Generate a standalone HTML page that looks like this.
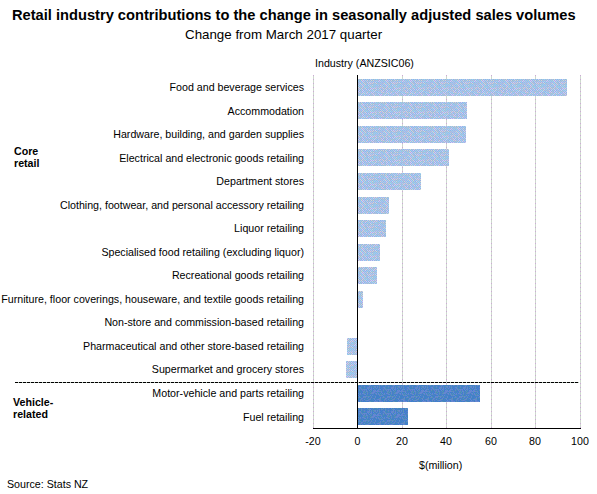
<!DOCTYPE html>
<html><head><meta charset="utf-8"><style>
html,body{margin:0;padding:0;background:#fff;}
body{width:597px;height:494px;position:relative;overflow:hidden;font-family:"Liberation Sans",sans-serif;color:#000;}
.t{position:absolute;white-space:nowrap;line-height:1;}
.lab{position:absolute;white-space:nowrap;right:293px;font-size:10.67px;line-height:12px;}
.r{position:absolute;}
</style></head><body>
<div class="t" style="left:12px;top:8px;font-size:14.67px;font-weight:bold;">Retail industry contributions to the change in seasonally adjusted sales volumes</div>
<div class="t" style="left:185px;top:28px;font-size:13.33px;">Change from March 2017 quarter</div>
<div class="t" style="left:315px;top:58px;font-size:10.67px;">Industry (ANZSIC06)</div>
<div class="r" style="left:313px;top:75px;width:1px;height:353px;background:repeating-linear-gradient(180deg,#cda8d6 0,#cda8d6 1px,#cdd8cd 1px,#cdd8cd 4px);"></div>
<div class="r" style="left:402px;top:75px;width:1px;height:353px;background:repeating-linear-gradient(180deg,#cda8d6 0,#cda8d6 1px,#cdd8cd 1px,#cdd8cd 4px);"></div>
<div class="r" style="left:446px;top:75px;width:1px;height:353px;background:repeating-linear-gradient(180deg,#cda8d6 0,#cda8d6 1px,#cdd8cd 1px,#cdd8cd 4px);"></div>
<div class="r" style="left:491px;top:75px;width:1px;height:353px;background:repeating-linear-gradient(180deg,#cda8d6 0,#cda8d6 1px,#cdd8cd 1px,#cdd8cd 4px);"></div>
<div class="r" style="left:535px;top:75px;width:1px;height:353px;background:repeating-linear-gradient(180deg,#cda8d6 0,#cda8d6 1px,#cdd8cd 1px,#cdd8cd 4px);"></div>
<div class="r" style="left:580px;top:75px;width:1px;height:353px;background:repeating-linear-gradient(180deg,#cda8d6 0,#cda8d6 1px,#cdd8cd 1px,#cdd8cd 4px);"></div>
<svg class="r" style="left:0;top:0" width="597" height="494" shape-rendering="crispEdges"><defs><pattern id="pl" patternUnits="userSpaceOnUse" width="24" height="24"><path fill="#aaabe5" d="M0 0h1v1h-1zM11 1h1v1h-1zM17 1h1v1h-1zM0 2h1v1h-1zM16 2h1v1h-1zM22 2h1v1h-1zM1 3h1v1h-1zM3 3h1v1h-1zM19 3h1v1h-1zM10 4h1v1h-1zM12 4h1v1h-1zM22 4h1v1h-1zM9 5h1v1h-1zM13 5h1v1h-1zM15 5h1v1h-1zM4 6h1v1h-1zM10 6h1v1h-1zM19 7h1v1h-1zM4 8h1v1h-1zM6 8h1v1h-1zM14 8h1v1h-1zM18 8h1v1h-1zM7 9h1v1h-1zM9 9h1v1h-1zM11 9h1v1h-1zM13 9h1v1h-1zM4 10h1v1h-1zM12 10h1v1h-1zM14 10h1v1h-1zM22 10h1v1h-1zM5 11h1v1h-1zM13 11h1v1h-1zM6 12h1v1h-1zM20 12h1v1h-1zM22 12h1v1h-1zM3 13h1v1h-1zM8 14h1v1h-1zM18 14h1v1h-1zM3 15h1v1h-1zM9 15h1v1h-1zM17 15h1v1h-1zM2 16h1v1h-1zM8 16h1v1h-1zM5 17h1v1h-1zM19 17h1v1h-1zM2 18h1v1h-1zM6 18h1v1h-1zM16 18h1v1h-1zM18 18h1v1h-1zM7 19h1v1h-1zM11 19h1v1h-1zM2 20h1v1h-1zM6 20h1v1h-1zM10 20h1v1h-1zM9 21h1v1h-1zM13 21h1v1h-1zM4 22h1v1h-1zM12 22h1v1h-1zM14 22h1v1h-1zM16 22h1v1h-1zM11 23h1v1h-1zM19 23h1v1h-1z"/><path fill="#9bd3f0" d="M1 0h1v1h-1zM11 0h1v1h-1zM17 0h1v1h-1zM0 1h1v1h-1zM10 1h1v1h-1zM7 2h1v1h-1zM17 2h1v1h-1zM19 2h1v1h-1zM21 4h1v1h-1zM23 4h1v1h-1zM0 5h1v1h-1zM10 5h1v1h-1zM18 5h1v1h-1zM20 5h1v1h-1zM22 5h1v1h-1zM3 6h1v1h-1zM7 6h1v1h-1zM4 7h1v1h-1zM6 7h1v1h-1zM8 7h1v1h-1zM16 7h1v1h-1zM21 8h1v1h-1zM0 9h1v1h-1zM12 9h1v1h-1zM14 9h1v1h-1zM22 9h1v1h-1zM1 10h1v1h-1zM17 10h1v1h-1zM19 10h1v1h-1zM21 10h1v1h-1zM23 10h1v1h-1zM20 11h1v1h-1zM7 12h1v1h-1zM15 12h1v1h-1zM17 12h1v1h-1zM21 12h1v1h-1zM0 13h1v1h-1zM6 13h1v1h-1zM14 13h1v1h-1zM16 13h1v1h-1zM1 14h1v1h-1zM17 14h1v1h-1zM8 15h1v1h-1zM7 16h1v1h-1zM21 16h1v1h-1zM4 17h1v1h-1zM5 18h1v1h-1zM7 18h1v1h-1zM11 18h1v1h-1zM16 19h1v1h-1zM1 20h1v1h-1zM5 20h1v1h-1zM9 20h1v1h-1zM19 20h1v1h-1zM8 21h1v1h-1zM10 21h1v1h-1zM20 21h1v1h-1zM3 22h1v1h-1zM7 22h1v1h-1zM17 22h1v1h-1zM6 23h1v1h-1z"/><path fill="#a0b5de" d="M2 0h1v1h-1zM14 0h1v1h-1zM20 0h1v1h-1zM5 1h1v1h-1zM8 2h1v1h-1zM10 2h1v1h-1zM12 2h1v1h-1zM14 2h1v1h-1zM13 3h1v1h-1zM0 4h1v1h-1zM4 4h1v1h-1zM14 4h1v1h-1zM1 5h1v1h-1zM3 5h1v1h-1zM7 5h1v1h-1zM11 5h1v1h-1zM8 6h1v1h-1zM18 6h1v1h-1zM20 6h1v1h-1zM22 6h1v1h-1zM1 7h1v1h-1zM7 7h1v1h-1zM10 8h1v1h-1zM12 8h1v1h-1zM20 8h1v1h-1zM23 9h1v1h-1zM8 10h1v1h-1zM20 10h1v1h-1zM15 11h1v1h-1zM17 11h1v1h-1zM16 12h1v1h-1zM5 13h1v1h-1zM9 13h1v1h-1zM12 14h1v1h-1zM22 14h1v1h-1zM13 15h1v1h-1zM0 16h1v1h-1zM18 16h1v1h-1zM1 17h1v1h-1zM3 17h1v1h-1zM13 17h1v1h-1zM15 17h1v1h-1zM8 18h1v1h-1zM10 18h1v1h-1zM9 19h1v1h-1zM13 19h1v1h-1zM1 21h1v1h-1zM19 21h1v1h-1zM23 21h1v1h-1zM6 22h1v1h-1zM10 22h1v1h-1zM1 23h1v1h-1zM3 23h1v1h-1zM17 23h1v1h-1z"/><path fill="#a4d3d5" d="M3 0h1v1h-1zM9 0h1v1h-1zM13 0h1v1h-1zM21 0h1v1h-1zM23 0h1v1h-1zM2 1h1v1h-1zM6 1h1v1h-1zM8 1h1v1h-1zM20 1h1v1h-1zM1 2h1v1h-1zM3 2h1v1h-1zM5 2h1v1h-1zM6 3h1v1h-1zM14 3h1v1h-1zM1 4h1v1h-1zM5 4h1v1h-1zM13 4h1v1h-1zM4 5h1v1h-1zM17 6h1v1h-1zM0 7h1v1h-1zM12 7h1v1h-1zM14 7h1v1h-1zM18 7h1v1h-1zM22 7h1v1h-1zM9 8h1v1h-1zM15 8h1v1h-1zM17 8h1v1h-1zM23 8h1v1h-1zM8 9h1v1h-1zM5 10h1v1h-1zM6 11h1v1h-1zM14 11h1v1h-1zM18 11h1v1h-1zM22 11h1v1h-1zM11 12h1v1h-1zM13 12h1v1h-1zM19 12h1v1h-1zM5 14h1v1h-1zM7 14h1v1h-1zM13 14h1v1h-1zM15 14h1v1h-1zM19 14h1v1h-1zM0 15h1v1h-1zM3 16h1v1h-1zM9 16h1v1h-1zM17 16h1v1h-1zM14 17h1v1h-1zM22 17h1v1h-1zM1 18h1v1h-1zM17 18h1v1h-1zM19 18h1v1h-1zM0 19h1v1h-1zM6 19h1v1h-1zM8 19h1v1h-1zM10 19h1v1h-1zM20 19h1v1h-1zM15 20h1v1h-1zM0 21h1v1h-1zM14 21h1v1h-1zM16 21h1v1h-1zM22 21h1v1h-1zM5 22h1v1h-1zM11 22h1v1h-1zM23 22h1v1h-1zM2 23h1v1h-1zM10 23h1v1h-1zM12 23h1v1h-1zM16 23h1v1h-1zM18 23h1v1h-1zM22 23h1v1h-1z"/><path fill="#97ace9" d="M4 0h1v1h-1zM6 0h1v1h-1zM12 0h1v1h-1zM16 0h1v1h-1zM18 0h1v1h-1zM15 1h1v1h-1zM20 2h1v1h-1zM5 3h1v1h-1zM15 3h1v1h-1zM2 4h1v1h-1zM6 4h1v1h-1zM18 4h1v1h-1zM20 4h1v1h-1zM19 5h1v1h-1zM0 6h1v1h-1zM6 6h1v1h-1zM3 7h1v1h-1zM5 7h1v1h-1zM9 7h1v1h-1zM13 7h1v1h-1zM21 7h1v1h-1zM8 8h1v1h-1zM5 9h1v1h-1zM6 10h1v1h-1zM16 10h1v1h-1zM18 10h1v1h-1zM3 11h1v1h-1zM7 11h1v1h-1zM12 12h1v1h-1zM7 13h1v1h-1zM19 13h1v1h-1zM23 13h1v1h-1zM20 14h1v1h-1zM1 15h1v1h-1zM23 15h1v1h-1zM6 16h1v1h-1zM7 17h1v1h-1zM9 17h1v1h-1zM21 17h1v1h-1zM0 18h1v1h-1zM4 18h1v1h-1zM22 18h1v1h-1zM1 19h1v1h-1zM3 19h1v1h-1zM17 19h1v1h-1zM23 19h1v1h-1zM12 20h1v1h-1zM14 20h1v1h-1zM16 20h1v1h-1zM17 21h1v1h-1zM21 21h1v1h-1zM18 22h1v1h-1zM9 23h1v1h-1z"/><path fill="#aadaeb" d="M5 0h1v1h-1zM19 0h1v1h-1zM4 1h1v1h-1zM14 1h1v1h-1zM16 1h1v1h-1zM18 1h1v1h-1zM22 1h1v1h-1zM9 2h1v1h-1zM13 2h1v1h-1zM21 2h1v1h-1zM23 2h1v1h-1zM4 3h1v1h-1zM16 3h1v1h-1zM17 4h1v1h-1zM8 5h1v1h-1zM12 5h1v1h-1zM9 6h1v1h-1zM11 6h1v1h-1zM15 6h1v1h-1zM19 6h1v1h-1zM20 7h1v1h-1zM5 8h1v1h-1zM4 9h1v1h-1zM6 9h1v1h-1zM10 9h1v1h-1zM16 9h1v1h-1zM20 9h1v1h-1zM11 10h1v1h-1zM2 11h1v1h-1zM3 12h1v1h-1zM9 12h1v1h-1zM23 12h1v1h-1zM4 13h1v1h-1zM10 13h1v1h-1zM18 13h1v1h-1zM22 13h1v1h-1zM9 14h1v1h-1zM11 14h1v1h-1zM21 14h1v1h-1zM23 14h1v1h-1zM4 15h1v1h-1zM6 15h1v1h-1zM12 15h1v1h-1zM14 15h1v1h-1zM16 15h1v1h-1zM18 15h1v1h-1zM0 17h1v1h-1zM18 17h1v1h-1zM20 17h1v1h-1zM13 18h1v1h-1zM4 19h1v1h-1zM12 19h1v1h-1zM18 19h1v1h-1zM17 20h1v1h-1zM15 22h1v1h-1zM8 23h1v1h-1z"/><path fill="#c9d4f5" d="M7 0h1v1h-1zM11 2h1v1h-1zM15 2h1v1h-1zM10 3h1v1h-1zM18 3h1v1h-1zM20 3h1v1h-1zM3 4h1v1h-1zM7 4h1v1h-1zM15 4h1v1h-1zM5 6h1v1h-1zM13 6h1v1h-1zM10 7h1v1h-1zM3 8h1v1h-1zM19 8h1v1h-1zM2 9h1v1h-1zM18 9h1v1h-1zM7 10h1v1h-1zM9 10h1v1h-1zM15 10h1v1h-1zM2 13h1v1h-1zM8 13h1v1h-1zM11 16h1v1h-1zM13 16h1v1h-1zM2 17h1v1h-1zM6 17h1v1h-1zM8 17h1v1h-1zM10 17h1v1h-1zM16 17h1v1h-1zM3 18h1v1h-1zM9 18h1v1h-1zM23 18h1v1h-1zM2 19h1v1h-1zM14 19h1v1h-1zM22 19h1v1h-1zM3 20h1v1h-1zM11 20h1v1h-1zM13 20h1v1h-1zM6 21h1v1h-1zM18 21h1v1h-1zM1 22h1v1h-1zM9 22h1v1h-1zM13 22h1v1h-1zM19 22h1v1h-1zM21 22h1v1h-1zM0 23h1v1h-1zM4 23h1v1h-1zM20 23h1v1h-1z"/><path fill="#97baed" d="M8 0h1v1h-1zM10 0h1v1h-1zM22 0h1v1h-1zM1 1h1v1h-1zM3 1h1v1h-1zM9 1h1v1h-1zM21 1h1v1h-1zM2 2h1v1h-1zM4 2h1v1h-1zM6 2h1v1h-1zM7 3h1v1h-1zM17 3h1v1h-1zM21 3h1v1h-1zM23 3h1v1h-1zM8 4h1v1h-1zM2 6h1v1h-1zM12 6h1v1h-1zM16 6h1v1h-1zM11 7h1v1h-1zM15 7h1v1h-1zM17 7h1v1h-1zM0 8h1v1h-1zM22 8h1v1h-1zM1 9h1v1h-1zM15 9h1v1h-1zM17 9h1v1h-1zM2 10h1v1h-1zM1 11h1v1h-1zM0 12h1v1h-1zM4 12h1v1h-1zM8 12h1v1h-1zM14 12h1v1h-1zM1 13h1v1h-1zM11 13h1v1h-1zM13 13h1v1h-1zM15 13h1v1h-1zM17 13h1v1h-1zM4 14h1v1h-1zM6 14h1v1h-1zM10 14h1v1h-1zM14 14h1v1h-1zM5 15h1v1h-1zM7 15h1v1h-1zM11 15h1v1h-1zM11 17h1v1h-1zM17 17h1v1h-1zM12 18h1v1h-1zM14 18h1v1h-1zM15 19h1v1h-1zM4 20h1v1h-1zM8 20h1v1h-1zM18 20h1v1h-1zM20 20h1v1h-1zM3 21h1v1h-1zM5 21h1v1h-1zM0 22h1v1h-1zM2 22h1v1h-1zM5 23h1v1h-1zM15 23h1v1h-1zM23 23h1v1h-1z"/><path fill="#cfdcd1" d="M15 0h1v1h-1zM12 1h1v1h-1zM0 3h1v1h-1zM2 3h1v1h-1zM8 3h1v1h-1zM12 3h1v1h-1zM22 3h1v1h-1zM9 4h1v1h-1zM11 4h1v1h-1zM19 4h1v1h-1zM2 5h1v1h-1zM6 5h1v1h-1zM14 5h1v1h-1zM16 5h1v1h-1zM1 6h1v1h-1zM21 6h1v1h-1zM23 6h1v1h-1zM2 7h1v1h-1zM1 8h1v1h-1zM7 8h1v1h-1zM11 8h1v1h-1zM13 8h1v1h-1zM3 10h1v1h-1zM13 10h1v1h-1zM0 11h1v1h-1zM4 11h1v1h-1zM8 11h1v1h-1zM10 11h1v1h-1zM12 11h1v1h-1zM16 11h1v1h-1zM1 12h1v1h-1zM5 12h1v1h-1zM12 13h1v1h-1zM20 13h1v1h-1zM3 14h1v1h-1zM2 15h1v1h-1zM10 15h1v1h-1zM20 15h1v1h-1zM22 15h1v1h-1zM1 16h1v1h-1zM5 16h1v1h-1zM15 16h1v1h-1zM19 16h1v1h-1zM23 16h1v1h-1zM12 17h1v1h-1zM15 18h1v1h-1zM21 18h1v1h-1zM7 20h1v1h-1zM21 20h1v1h-1zM23 20h1v1h-1zM2 21h1v1h-1zM4 21h1v1h-1zM12 21h1v1h-1zM14 23h1v1h-1z"/><path fill="#b5a8e8" d="M7 1h1v1h-1zM13 1h1v1h-1zM19 1h1v1h-1zM23 1h1v1h-1zM18 2h1v1h-1zM9 3h1v1h-1zM11 3h1v1h-1zM16 4h1v1h-1zM5 5h1v1h-1zM17 5h1v1h-1zM21 5h1v1h-1zM23 5h1v1h-1zM14 6h1v1h-1zM23 7h1v1h-1zM2 8h1v1h-1zM16 8h1v1h-1zM3 9h1v1h-1zM19 9h1v1h-1zM21 9h1v1h-1zM0 10h1v1h-1zM10 10h1v1h-1zM9 11h1v1h-1zM11 11h1v1h-1zM19 11h1v1h-1zM21 11h1v1h-1zM23 11h1v1h-1zM2 12h1v1h-1zM10 12h1v1h-1zM18 12h1v1h-1zM21 13h1v1h-1zM0 14h1v1h-1zM2 14h1v1h-1zM16 14h1v1h-1zM15 15h1v1h-1zM19 15h1v1h-1zM21 15h1v1h-1zM4 16h1v1h-1zM10 16h1v1h-1zM12 16h1v1h-1zM14 16h1v1h-1zM16 16h1v1h-1zM20 16h1v1h-1zM22 16h1v1h-1zM23 17h1v1h-1zM20 18h1v1h-1zM5 19h1v1h-1zM19 19h1v1h-1zM21 19h1v1h-1zM0 20h1v1h-1zM22 20h1v1h-1zM7 21h1v1h-1zM11 21h1v1h-1zM15 21h1v1h-1zM8 22h1v1h-1zM20 22h1v1h-1zM22 22h1v1h-1zM7 23h1v1h-1zM13 23h1v1h-1zM21 23h1v1h-1z"/></pattern><pattern id="pd" patternUnits="userSpaceOnUse" width="24" height="24"><path fill="#4d77c7" d="M0 0h1v1h-1zM2 0h1v1h-1zM8 0h1v1h-1zM12 0h1v1h-1zM14 0h1v1h-1zM16 0h1v1h-1zM22 0h1v1h-1zM3 1h1v1h-1zM5 1h1v1h-1zM7 1h1v1h-1zM15 1h1v1h-1zM17 1h1v1h-1zM23 1h1v1h-1zM2 2h1v1h-1zM8 2h1v1h-1zM16 2h1v1h-1zM18 2h1v1h-1zM1 3h1v1h-1zM3 3h1v1h-1zM5 3h1v1h-1zM13 3h1v1h-1zM4 4h1v1h-1zM10 4h1v1h-1zM22 4h1v1h-1zM15 5h1v1h-1zM17 5h1v1h-1zM0 6h1v1h-1zM10 6h1v1h-1zM20 6h1v1h-1zM22 6h1v1h-1zM5 7h1v1h-1zM9 7h1v1h-1zM23 7h1v1h-1zM0 8h1v1h-1zM4 8h1v1h-1zM8 8h1v1h-1zM10 8h1v1h-1zM22 8h1v1h-1zM9 9h1v1h-1zM17 9h1v1h-1zM2 10h1v1h-1zM10 10h1v1h-1zM12 10h1v1h-1zM1 11h1v1h-1zM9 11h1v1h-1zM13 11h1v1h-1zM15 11h1v1h-1zM0 12h1v1h-1zM10 12h1v1h-1zM14 12h1v1h-1zM20 12h1v1h-1zM1 13h1v1h-1zM7 13h1v1h-1zM9 13h1v1h-1zM4 14h1v1h-1zM6 14h1v1h-1zM12 14h1v1h-1zM18 14h1v1h-1zM22 14h1v1h-1zM3 15h1v1h-1zM5 15h1v1h-1zM15 15h1v1h-1zM12 16h1v1h-1zM16 16h1v1h-1zM1 17h1v1h-1zM11 17h1v1h-1zM13 17h1v1h-1zM0 18h1v1h-1zM6 18h1v1h-1zM16 18h1v1h-1zM18 18h1v1h-1zM20 18h1v1h-1zM3 19h1v1h-1zM23 19h1v1h-1zM6 20h1v1h-1zM8 20h1v1h-1zM16 20h1v1h-1zM9 21h1v1h-1zM11 21h1v1h-1zM2 22h1v1h-1zM6 22h1v1h-1zM10 22h1v1h-1zM3 23h1v1h-1zM11 23h1v1h-1zM17 23h1v1h-1zM19 23h1v1h-1zM21 23h1v1h-1z"/><path fill="#51a1ad" d="M1 0h1v1h-1zM9 0h1v1h-1zM13 0h1v1h-1zM17 0h1v1h-1zM21 0h1v1h-1zM8 1h1v1h-1zM22 1h1v1h-1zM1 2h1v1h-1zM11 2h1v1h-1zM13 2h1v1h-1zM19 2h1v1h-1zM4 3h1v1h-1zM14 3h1v1h-1zM1 4h1v1h-1zM9 4h1v1h-1zM19 4h1v1h-1zM2 5h1v1h-1zM14 5h1v1h-1zM11 6h1v1h-1zM23 6h1v1h-1zM4 7h1v1h-1zM10 7h1v1h-1zM20 7h1v1h-1zM3 8h1v1h-1zM5 8h1v1h-1zM7 8h1v1h-1zM11 8h1v1h-1zM17 8h1v1h-1zM4 9h1v1h-1zM10 9h1v1h-1zM20 9h1v1h-1zM7 10h1v1h-1zM19 10h1v1h-1zM21 10h1v1h-1zM23 10h1v1h-1zM6 11h1v1h-1zM20 11h1v1h-1zM7 12h1v1h-1zM9 12h1v1h-1zM11 12h1v1h-1zM0 13h1v1h-1zM4 13h1v1h-1zM22 13h1v1h-1zM7 14h1v1h-1zM13 14h1v1h-1zM19 14h1v1h-1zM0 15h1v1h-1zM8 15h1v1h-1zM10 15h1v1h-1zM20 15h1v1h-1zM5 16h1v1h-1zM0 17h1v1h-1zM10 17h1v1h-1zM3 18h1v1h-1zM19 18h1v1h-1zM21 18h1v1h-1zM4 19h1v1h-1zM6 19h1v1h-1zM1 20h1v1h-1zM3 20h1v1h-1zM7 20h1v1h-1zM21 20h1v1h-1zM23 20h1v1h-1zM0 21h1v1h-1zM2 21h1v1h-1zM8 21h1v1h-1zM22 21h1v1h-1zM1 22h1v1h-1zM3 22h1v1h-1zM7 22h1v1h-1zM23 22h1v1h-1zM8 23h1v1h-1zM18 23h1v1h-1zM22 23h1v1h-1z"/><path fill="#438cc7" d="M3 0h1v1h-1zM5 0h1v1h-1zM11 0h1v1h-1zM2 1h1v1h-1zM12 1h1v1h-1zM18 1h1v1h-1zM3 2h1v1h-1zM5 2h1v1h-1zM7 2h1v1h-1zM21 2h1v1h-1zM23 2h1v1h-1zM6 3h1v1h-1zM10 3h1v1h-1zM20 3h1v1h-1zM22 3h1v1h-1zM15 4h1v1h-1zM17 4h1v1h-1zM21 4h1v1h-1zM23 4h1v1h-1zM0 5h1v1h-1zM12 5h1v1h-1zM22 5h1v1h-1zM3 6h1v1h-1zM21 6h1v1h-1zM2 7h1v1h-1zM12 7h1v1h-1zM22 7h1v1h-1zM1 8h1v1h-1zM9 8h1v1h-1zM15 8h1v1h-1zM6 9h1v1h-1zM8 9h1v1h-1zM1 10h1v1h-1zM3 10h1v1h-1zM9 10h1v1h-1zM11 10h1v1h-1zM13 10h1v1h-1zM17 10h1v1h-1zM2 11h1v1h-1zM14 11h1v1h-1zM13 12h1v1h-1zM19 12h1v1h-1zM21 12h1v1h-1zM2 13h1v1h-1zM10 13h1v1h-1zM12 13h1v1h-1zM18 13h1v1h-1zM5 14h1v1h-1zM9 14h1v1h-1zM2 15h1v1h-1zM12 15h1v1h-1zM16 15h1v1h-1zM3 16h1v1h-1zM9 16h1v1h-1zM13 16h1v1h-1zM17 16h1v1h-1zM21 16h1v1h-1zM23 16h1v1h-1zM2 17h1v1h-1zM4 17h1v1h-1zM6 17h1v1h-1zM5 18h1v1h-1zM7 18h1v1h-1zM11 18h1v1h-1zM13 18h1v1h-1zM0 19h1v1h-1zM8 19h1v1h-1zM14 19h1v1h-1zM22 19h1v1h-1zM5 20h1v1h-1zM19 20h1v1h-1zM12 21h1v1h-1zM16 21h1v1h-1zM18 21h1v1h-1zM2 23h1v1h-1zM10 23h1v1h-1zM12 23h1v1h-1zM14 23h1v1h-1zM16 23h1v1h-1z"/><path fill="#6d77d1" d="M4 0h1v1h-1zM1 1h1v1h-1zM9 1h1v1h-1zM19 1h1v1h-1zM21 1h1v1h-1zM4 2h1v1h-1zM14 2h1v1h-1zM7 3h1v1h-1zM9 3h1v1h-1zM11 3h1v1h-1zM15 3h1v1h-1zM17 3h1v1h-1zM19 3h1v1h-1zM23 3h1v1h-1zM0 4h1v1h-1zM8 4h1v1h-1zM16 4h1v1h-1zM1 5h1v1h-1zM3 5h1v1h-1zM5 5h1v1h-1zM11 5h1v1h-1zM19 5h1v1h-1zM23 5h1v1h-1zM2 6h1v1h-1zM4 6h1v1h-1zM6 6h1v1h-1zM14 6h1v1h-1zM18 6h1v1h-1zM3 7h1v1h-1zM7 7h1v1h-1zM13 7h1v1h-1zM15 7h1v1h-1zM17 7h1v1h-1zM19 7h1v1h-1zM21 7h1v1h-1zM12 8h1v1h-1zM14 8h1v1h-1zM3 9h1v1h-1zM7 9h1v1h-1zM11 9h1v1h-1zM13 9h1v1h-1zM15 9h1v1h-1zM0 10h1v1h-1zM4 10h1v1h-1zM16 10h1v1h-1zM18 10h1v1h-1zM19 11h1v1h-1zM21 11h1v1h-1zM4 12h1v1h-1zM6 12h1v1h-1zM8 12h1v1h-1zM3 13h1v1h-1zM5 13h1v1h-1zM11 13h1v1h-1zM15 13h1v1h-1zM23 13h1v1h-1zM2 14h1v1h-1zM10 14h1v1h-1zM14 14h1v1h-1zM20 14h1v1h-1zM1 15h1v1h-1zM9 15h1v1h-1zM17 15h1v1h-1zM19 15h1v1h-1zM0 16h1v1h-1zM2 16h1v1h-1zM6 16h1v1h-1zM8 16h1v1h-1zM20 16h1v1h-1zM9 17h1v1h-1zM15 17h1v1h-1zM17 17h1v1h-1zM19 17h1v1h-1zM21 17h1v1h-1zM8 18h1v1h-1zM10 18h1v1h-1zM22 18h1v1h-1zM1 19h1v1h-1zM5 19h1v1h-1zM11 19h1v1h-1zM17 19h1v1h-1zM21 19h1v1h-1zM0 20h1v1h-1zM4 20h1v1h-1zM10 20h1v1h-1zM12 20h1v1h-1zM14 20h1v1h-1zM1 21h1v1h-1zM3 21h1v1h-1zM5 21h1v1h-1zM19 21h1v1h-1zM21 21h1v1h-1zM8 22h1v1h-1zM16 22h1v1h-1zM1 23h1v1h-1zM23 23h1v1h-1z"/><path fill="#4672d1" d="M6 0h1v1h-1zM10 0h1v1h-1zM18 0h1v1h-1zM20 0h1v1h-1zM11 1h1v1h-1zM13 1h1v1h-1zM0 2h1v1h-1zM6 2h1v1h-1zM10 2h1v1h-1zM12 2h1v1h-1zM20 2h1v1h-1zM22 2h1v1h-1zM21 3h1v1h-1zM2 4h1v1h-1zM6 4h1v1h-1zM12 4h1v1h-1zM14 4h1v1h-1zM18 4h1v1h-1zM20 4h1v1h-1zM7 5h1v1h-1zM9 5h1v1h-1zM13 5h1v1h-1zM21 5h1v1h-1zM8 6h1v1h-1zM12 6h1v1h-1zM16 6h1v1h-1zM1 7h1v1h-1zM11 7h1v1h-1zM2 8h1v1h-1zM6 8h1v1h-1zM16 8h1v1h-1zM18 8h1v1h-1zM20 8h1v1h-1zM1 9h1v1h-1zM5 9h1v1h-1zM19 9h1v1h-1zM21 9h1v1h-1zM23 9h1v1h-1zM6 10h1v1h-1zM8 10h1v1h-1zM14 10h1v1h-1zM20 10h1v1h-1zM22 10h1v1h-1zM3 11h1v1h-1zM5 11h1v1h-1zM7 11h1v1h-1zM11 11h1v1h-1zM17 11h1v1h-1zM23 11h1v1h-1zM2 12h1v1h-1zM12 12h1v1h-1zM16 12h1v1h-1zM18 12h1v1h-1zM22 12h1v1h-1zM13 13h1v1h-1zM17 13h1v1h-1zM19 13h1v1h-1zM21 13h1v1h-1zM0 14h1v1h-1zM8 14h1v1h-1zM16 14h1v1h-1zM7 15h1v1h-1zM11 15h1v1h-1zM13 15h1v1h-1zM21 15h1v1h-1zM23 15h1v1h-1zM4 16h1v1h-1zM10 16h1v1h-1zM14 16h1v1h-1zM18 16h1v1h-1zM22 16h1v1h-1zM3 17h1v1h-1zM5 17h1v1h-1zM7 17h1v1h-1zM23 17h1v1h-1zM2 18h1v1h-1zM4 18h1v1h-1zM12 18h1v1h-1zM14 18h1v1h-1zM7 19h1v1h-1zM9 19h1v1h-1zM13 19h1v1h-1zM15 19h1v1h-1zM19 19h1v1h-1zM2 20h1v1h-1zM18 20h1v1h-1zM20 20h1v1h-1zM22 20h1v1h-1zM7 21h1v1h-1zM13 21h1v1h-1zM15 21h1v1h-1zM17 21h1v1h-1zM23 21h1v1h-1zM0 22h1v1h-1zM4 22h1v1h-1zM12 22h1v1h-1zM14 22h1v1h-1zM18 22h1v1h-1zM20 22h1v1h-1zM22 22h1v1h-1zM5 23h1v1h-1zM7 23h1v1h-1zM9 23h1v1h-1zM13 23h1v1h-1zM15 23h1v1h-1z"/><path fill="#5b96d1" d="M7 0h1v1h-1zM23 0h1v1h-1zM10 1h1v1h-1zM9 2h1v1h-1zM15 2h1v1h-1zM17 2h1v1h-1zM0 3h1v1h-1zM8 3h1v1h-1zM7 4h1v1h-1zM11 4h1v1h-1zM13 4h1v1h-1zM4 5h1v1h-1zM6 5h1v1h-1zM8 5h1v1h-1zM10 5h1v1h-1zM18 5h1v1h-1zM20 5h1v1h-1zM9 6h1v1h-1zM13 6h1v1h-1zM15 6h1v1h-1zM17 6h1v1h-1zM6 7h1v1h-1zM14 7h1v1h-1zM16 7h1v1h-1zM18 7h1v1h-1zM13 8h1v1h-1zM21 8h1v1h-1zM0 9h1v1h-1zM2 9h1v1h-1zM12 9h1v1h-1zM16 9h1v1h-1zM18 9h1v1h-1zM22 9h1v1h-1zM5 10h1v1h-1zM10 11h1v1h-1zM12 11h1v1h-1zM22 11h1v1h-1zM3 12h1v1h-1zM5 12h1v1h-1zM15 12h1v1h-1zM23 12h1v1h-1zM8 13h1v1h-1zM20 13h1v1h-1zM1 14h1v1h-1zM4 15h1v1h-1zM14 15h1v1h-1zM18 15h1v1h-1zM7 16h1v1h-1zM15 16h1v1h-1zM19 16h1v1h-1zM14 17h1v1h-1zM16 17h1v1h-1zM20 17h1v1h-1zM22 17h1v1h-1zM9 18h1v1h-1zM17 18h1v1h-1zM23 18h1v1h-1zM12 19h1v1h-1zM11 20h1v1h-1zM13 20h1v1h-1zM15 20h1v1h-1zM17 20h1v1h-1zM6 21h1v1h-1zM5 22h1v1h-1zM9 22h1v1h-1zM13 22h1v1h-1zM17 22h1v1h-1zM21 22h1v1h-1zM4 23h1v1h-1zM6 23h1v1h-1z"/><path fill="#3c91bc" d="M15 0h1v1h-1zM19 0h1v1h-1zM0 1h1v1h-1zM4 1h1v1h-1zM6 1h1v1h-1zM14 1h1v1h-1zM16 1h1v1h-1zM20 1h1v1h-1zM2 3h1v1h-1zM12 3h1v1h-1zM16 3h1v1h-1zM18 3h1v1h-1zM3 4h1v1h-1zM5 4h1v1h-1zM16 5h1v1h-1zM1 6h1v1h-1zM5 6h1v1h-1zM7 6h1v1h-1zM19 6h1v1h-1zM0 7h1v1h-1zM8 7h1v1h-1zM19 8h1v1h-1zM23 8h1v1h-1zM14 9h1v1h-1zM15 10h1v1h-1zM0 11h1v1h-1zM4 11h1v1h-1zM8 11h1v1h-1zM16 11h1v1h-1zM18 11h1v1h-1zM1 12h1v1h-1zM17 12h1v1h-1zM6 13h1v1h-1zM14 13h1v1h-1zM16 13h1v1h-1zM3 14h1v1h-1zM11 14h1v1h-1zM15 14h1v1h-1zM17 14h1v1h-1zM21 14h1v1h-1zM23 14h1v1h-1zM6 15h1v1h-1zM22 15h1v1h-1zM1 16h1v1h-1zM11 16h1v1h-1zM8 17h1v1h-1zM12 17h1v1h-1zM18 17h1v1h-1zM1 18h1v1h-1zM15 18h1v1h-1zM2 19h1v1h-1zM10 19h1v1h-1zM16 19h1v1h-1zM18 19h1v1h-1zM20 19h1v1h-1zM9 20h1v1h-1zM4 21h1v1h-1zM10 21h1v1h-1zM14 21h1v1h-1zM20 21h1v1h-1zM11 22h1v1h-1zM15 22h1v1h-1zM19 22h1v1h-1zM0 23h1v1h-1zM20 23h1v1h-1z"/></pattern></defs><rect x="358" y="79" width="209" height="17" fill="url(#pl)"/><rect x="358" y="102" width="109" height="17" fill="url(#pl)"/><rect x="358" y="126" width="108" height="17" fill="url(#pl)"/><rect x="358" y="149" width="91" height="17" fill="url(#pl)"/><rect x="358" y="173" width="63" height="17" fill="url(#pl)"/><rect x="358" y="197" width="31" height="17" fill="url(#pl)"/><rect x="358" y="220" width="28" height="17" fill="url(#pl)"/><rect x="358" y="244" width="22" height="17" fill="url(#pl)"/><rect x="358" y="267" width="19" height="17" fill="url(#pl)"/><rect x="358" y="291" width="5" height="17" fill="url(#pl)"/><rect x="347" y="338" width="10" height="17" fill="url(#pl)"/><rect x="346" y="361" width="11" height="17" fill="url(#pl)"/><rect x="358" y="385" width="122" height="17" fill="url(#pd)"/><rect x="358" y="408" width="50" height="17" fill="url(#pd)"/></svg>
<div class="r" style="left:357px;top:75px;width:1px;height:354px;background:#000;"></div>
<div class="r" style="left:313px;top:428px;width:268px;height:1px;background:#000;"></div>
<div class="r" style="left:15px;top:382px;width:564px;height:1px;background:repeating-linear-gradient(90deg,#000 0,#000 3px,#b8c8b8 3px,#b8c8b8 4px);"></div>
<div class="lab" style="top:81px;">Food and beverage services</div>
<div class="lab" style="top:105px;">Accommodation</div>
<div class="lab" style="top:128px;">Hardware, building, and garden supplies</div>
<div class="lab" style="top:152px;">Electrical and electronic goods retailing</div>
<div class="lab" style="top:175px;">Department stores</div>
<div class="lab" style="top:199px;">Clothing, footwear, and personal accessory retailing</div>
<div class="lab" style="top:222px;">Liquor retailing</div>
<div class="lab" style="top:246px;">Specialised food retailing (excluding liquor)</div>
<div class="lab" style="top:269px;">Recreational goods retailing</div>
<div class="lab" style="top:293px;">Furniture, floor coverings, houseware, and textile goods retailing</div>
<div class="lab" style="top:316px;">Non-store and commission-based retailing</div>
<div class="lab" style="top:340px;">Pharmaceutical and other store-based retailing</div>
<div class="lab" style="top:363px;">Supermarket and grocery stores</div>
<div class="lab" style="top:387px;">Motor-vehicle and parts retailing</div>
<div class="lab" style="top:411px;">Fuel retailing</div>
<div class="t" style="left:14px;top:145px;font-size:10.67px;font-weight:bold;line-height:12px;">Core<br>retail</div>
<div class="t" style="left:13px;top:397px;font-size:10.67px;font-weight:bold;line-height:11.5px;">Vehicle-<br>related</div>
<div class="t" style="left:283px;width:60px;text-align:center;top:436px;font-size:10.67px;">-20</div>
<div class="t" style="left:327.5px;width:60px;text-align:center;top:436px;font-size:10.67px;">0</div>
<div class="t" style="left:372px;width:60px;text-align:center;top:436px;font-size:10.67px;">20</div>
<div class="t" style="left:416px;width:60px;text-align:center;top:436px;font-size:10.67px;">40</div>
<div class="t" style="left:461px;width:60px;text-align:center;top:436px;font-size:10.67px;">60</div>
<div class="t" style="left:505px;width:60px;text-align:center;top:436px;font-size:10.67px;">80</div>
<div class="t" style="left:550px;width:60px;text-align:center;top:436px;font-size:10.67px;">100</div>
<div class="t" style="left:419px;top:460px;font-size:10.67px;">$(million)</div>
<div class="t" style="left:7px;top:479px;font-size:10.67px;">Source: Stats NZ</div>
</body></html>
